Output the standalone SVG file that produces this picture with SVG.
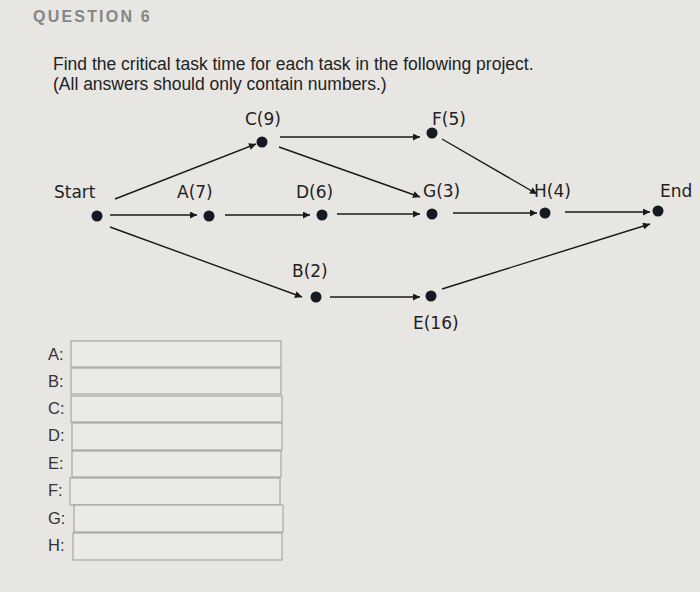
<svg xmlns="http://www.w3.org/2000/svg" width="700" height="592" viewBox="0 0 700 592">
<style>
.t{font-family:"Liberation Sans",Arial,sans-serif;font-size:17.5px;fill:#222}
.a{font-family:"Liberation Sans",Arial,sans-serif;font-size:16.5px;fill:#333}
.n{font-family:"DejaVu Sans",sans-serif;font-size:17px;fill:#222}
.e{stroke:#1a1a1a;stroke-width:1.4;fill:none;marker-end:url(#ah)}
.d{fill:#151a22}
.b{fill:#eceae7;stroke:#9a9a9a;stroke-width:1}
</style>
<defs><marker id="ah" viewBox="0 0 10 10" refX="10" refY="5" markerWidth="8" markerHeight="7" orient="auto" markerUnits="userSpaceOnUse"><path d="M0,0L10,5L0,10z" fill="#1a1a1a"/></marker></defs>
<rect width="700" height="592" fill="#e8e6e3"/>
<text x="33" y="22" font-family="Liberation Sans,Arial,sans-serif" font-size="16" font-weight="bold" fill="#858585" letter-spacing="2.2">QUESTION 6</text>
<text class="t" x="53" y="70">Find the critical task time for each task in the following project.</text>
<text class="t" x="53" y="90">(All answers should only contain numbers.)</text>
<g id="connectors">
<line class="e" x1="115" y1="199" x2="256" y2="144"/>
<line class="e" x1="110" y1="215" x2="197" y2="215"/>
<line class="e" x1="225" y1="215" x2="310" y2="215"/>
<line class="e" x1="337" y1="214" x2="420" y2="214"/>
<line class="e" x1="453" y1="213" x2="537" y2="213"/>
<line class="e" x1="565" y1="212" x2="650" y2="212"/>
<line class="e" x1="280" y1="137" x2="420" y2="137"/>
<line class="e" x1="279" y1="147" x2="420" y2="197"/>
<line class="e" x1="442" y1="139" x2="537" y2="194"/>
<line class="e" x1="110" y1="227" x2="302" y2="297"/>
<line class="e" x1="330" y1="297" x2="420" y2="297"/>
<line class="e" x1="442" y1="289" x2="650" y2="224"/>
</g>
<g id="start"><circle class="d" cx="97" cy="216" r="5.5"/><text class="n" x="54" y="198">Start</text></g>
<g id="A"><circle class="d" cx="209" cy="216" r="5.5"/><text class="n" x="177" y="198">A(7)</text></g>
<g id="D"><circle class="d" cx="322" cy="215" r="5.5"/><text class="n" x="296" y="198">D(6)</text></g>
<g id="G"><circle class="d" cx="432" cy="214" r="5.5"/><text class="n" x="423" y="197">G(3)</text></g>
<g id="H"><circle class="d" cx="545" cy="213" r="5.5"/><text class="n" x="534" y="197">H(4)</text></g>
<g id="end"><circle class="d" cx="658" cy="211" r="5.5"/><text class="n" x="660" y="197">End</text></g>
<g id="C"><circle class="d" cx="262" cy="142" r="5.5"/><text class="n" x="245" y="125">C(9)</text></g>
<g id="F"><circle class="d" cx="432" cy="133" r="5.5"/><text class="n" x="432" y="125">F(5)</text></g>
<g id="B"><circle class="d" cx="316" cy="297" r="5.5"/><text class="n" x="292" y="277">B(2)</text></g>
<g id="E"><circle class="d" cx="431" cy="296" r="5.5"/><text class="n" x="413" y="329">E(16)</text></g>
<g id="answers">
<text class="a" x="48" y="360">A:</text><rect class="b" x="71" y="341" width="210" height="26"/>
<text class="a" x="48" y="387">B:</text><rect class="b" x="71" y="368" width="210" height="26"/>
<text class="a" x="48" y="414">C:</text><rect class="b" x="71" y="396" width="211" height="26"/>
<text class="a" x="48" y="441">D:</text><rect class="b" x="72" y="423" width="210" height="27"/>
<text class="a" x="48" y="469">E:</text><rect class="b" x="72" y="451" width="209" height="26"/>
<text class="a" x="48" y="496">F:</text><rect class="b" x="70" y="478" width="210" height="27"/>
<text class="a" x="48" y="524">G:</text><rect class="b" x="74" y="505" width="209" height="27"/>
<text class="a" x="48" y="551">H:</text><rect class="b" x="73" y="533" width="209" height="27"/>
</g>
</svg>
